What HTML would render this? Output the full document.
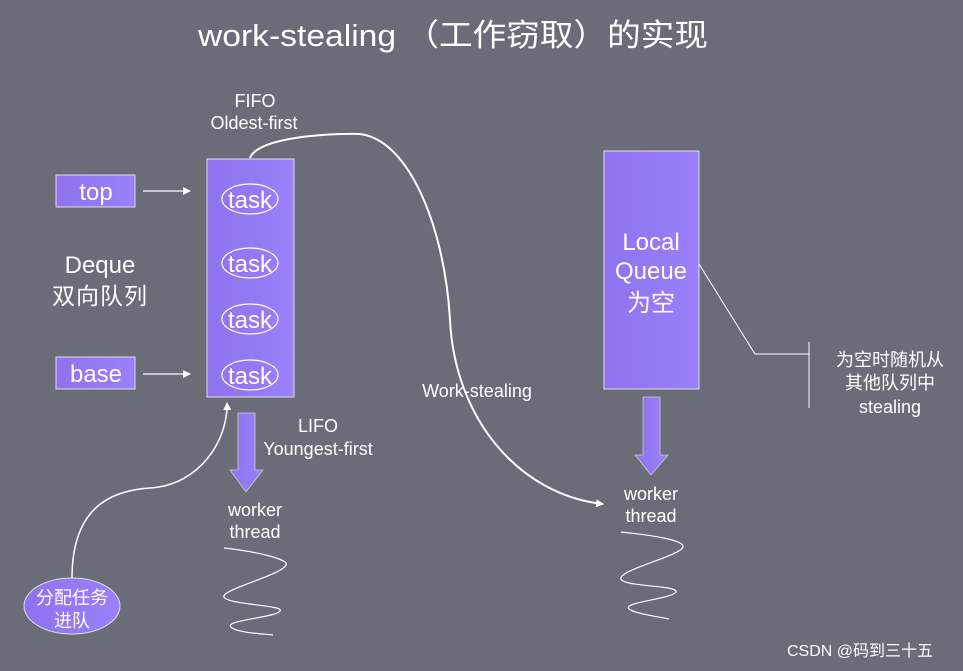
<!DOCTYPE html>
<html><head><meta charset="utf-8"><style>
html,body{margin:0;padding:0;background:#6a6d78;}
svg{display:block}
text{font-family:"Liberation Sans","Noto Sans CJK SC",sans-serif;fill:#fff;}
</style></head><body>
<svg width="963" height="671" viewBox="0 0 963 671" xmlns="http://www.w3.org/2000/svg">
<defs>
<linearGradient id="pg" x1="0" y1="0" x2="1" y2="0"><stop offset="0" stop-color="#8f73ee"/><stop offset="1" stop-color="#9a80fa"/></linearGradient>
<marker id="ah" markerWidth="8" markerHeight="8" refX="7" refY="4" orient="auto" markerUnits="userSpaceOnUse"><path d="M0,0 L8,4 L0,8 z" fill="#fff"/></marker>
</defs>
<rect width="963" height="671" fill="#6a6d78"/>
<text x="453" y="46" font-size="31" text-anchor="middle" textLength="510" lengthAdjust="spacingAndGlyphs">work-stealing （工作窃取）的实现</text>

<text x="255" y="107" font-size="18" text-anchor="middle">FIFO</text>
<text x="254" y="129" font-size="18" text-anchor="middle">Oldest-first</text>

<rect x="56" y="175" width="79" height="32" fill="url(#pg)" stroke="#ddd" stroke-width="1"/>
<text x="96" y="200" font-size="24" text-anchor="middle">top</text>
<rect x="56" y="357" width="79" height="32" fill="url(#pg)" stroke="#ddd" stroke-width="1"/>
<text x="96" y="382" font-size="24" text-anchor="middle">base</text>
<line x1="143" y1="191" x2="190" y2="191" stroke="#fff" stroke-width="1.2" marker-end="url(#ah)"/>
<line x1="143" y1="374" x2="190" y2="374" stroke="#fff" stroke-width="1.2" marker-end="url(#ah)"/>

<text x="100" y="273" font-size="24" text-anchor="middle">Deque</text>
<text x="100" y="304" font-size="23" text-anchor="middle" letter-spacing="1">双向队列</text>

<rect x="207" y="159" width="87" height="238" fill="url(#pg)" stroke="#ddd" stroke-width="1"/>
<g fill="none" stroke="#fff" stroke-width="1.2">
<ellipse cx="250" cy="199" rx="28" ry="15"/>
<ellipse cx="250" cy="263" rx="28" ry="15"/>
<ellipse cx="250" cy="319" rx="28" ry="15"/>
<ellipse cx="250" cy="375" rx="28" ry="15"/>
</g>
<text x="250" y="208" font-size="24" text-anchor="middle">task</text>
<text x="250" y="272" font-size="24" text-anchor="middle">task</text>
<text x="250" y="328" font-size="24" text-anchor="middle">task</text>
<text x="250" y="384" font-size="24" text-anchor="middle">task</text>

<path d="M250,158 C258,137 330,133 360,134 C410,140 445,230 450,320 C455,420 520,495 603,504" fill="none" stroke="#fff" stroke-width="2" marker-end="url(#ah)"/>
<text x="477" y="397" font-size="18" text-anchor="middle">Work-stealing</text>

<path d="M72,578 C72,500 120,490 150,488 C200,485 228,440 227,403" fill="none" stroke="#fff" stroke-width="1.5" marker-end="url(#ah)"/>
<polygon points="238,413 255,413 255,470 263,470 246,492 230,470 238,470" fill="url(#pg)" stroke="#ccc" stroke-width="0.8"/>
<text x="318" y="432" font-size="18" text-anchor="middle">LIFO</text>
<text x="318" y="455" font-size="18" text-anchor="middle">Youngest-first</text>
<text x="255" y="516" font-size="18" text-anchor="middle">worker</text>
<text x="255" y="538" font-size="18" text-anchor="middle">thread</text>
<path d="M224,548 C260,552 290,560 286,565 C282,575 220,590 224,597 C228,605 285,605 280,611 C276,618 220,620 232,628 C240,633 265,634 273,635" fill="none" stroke="#fff" stroke-width="1.2"/>

<ellipse cx="72" cy="606" rx="48" ry="28" fill="url(#pg)" stroke="#ddd" stroke-width="1"/>
<text x="72" y="604" font-size="18" text-anchor="middle">分配任务</text>
<text x="72" y="627" font-size="18" text-anchor="middle">进队</text>

<rect x="604" y="151" width="95" height="238" fill="url(#pg)" stroke="#ddd" stroke-width="1"/>
<text x="651" y="250" font-size="24" text-anchor="middle">Local</text>
<text x="651" y="279" font-size="24" text-anchor="middle">Queue</text>
<text x="651" y="311" font-size="24" text-anchor="middle">为空</text>
<polygon points="643,397 660,397 660,455 668,455 651,475 635,455 643,455" fill="url(#pg)" stroke="#ccc" stroke-width="0.8"/>
<text x="651" y="500" font-size="18" text-anchor="middle">worker</text>
<text x="651" y="522" font-size="18" text-anchor="middle">thread</text>
<path d="M621,532 C650,535 685,540 683,547 C680,556 618,570 621,579 C624,587 678,585 676,592 C672,599 622,602 629,609 C636,614 660,617 669,619" fill="none" stroke="#fff" stroke-width="1.2"/>

<polyline points="699,264 755,354 809,354" fill="none" stroke="#fff" stroke-width="1"/>
<line x1="809" y1="342" x2="809" y2="408" stroke="#fff" stroke-width="1"/>
<text x="890" y="366" font-size="18" text-anchor="middle">为空时随机从</text>
<text x="890" y="389" font-size="18" text-anchor="middle">其他队列中</text>
<text x="890" y="413" font-size="18" text-anchor="middle">stealing</text>

<text x="860" y="656" font-size="16" text-anchor="middle">CSDN @码到三十五</text>
</svg>
</body></html>
